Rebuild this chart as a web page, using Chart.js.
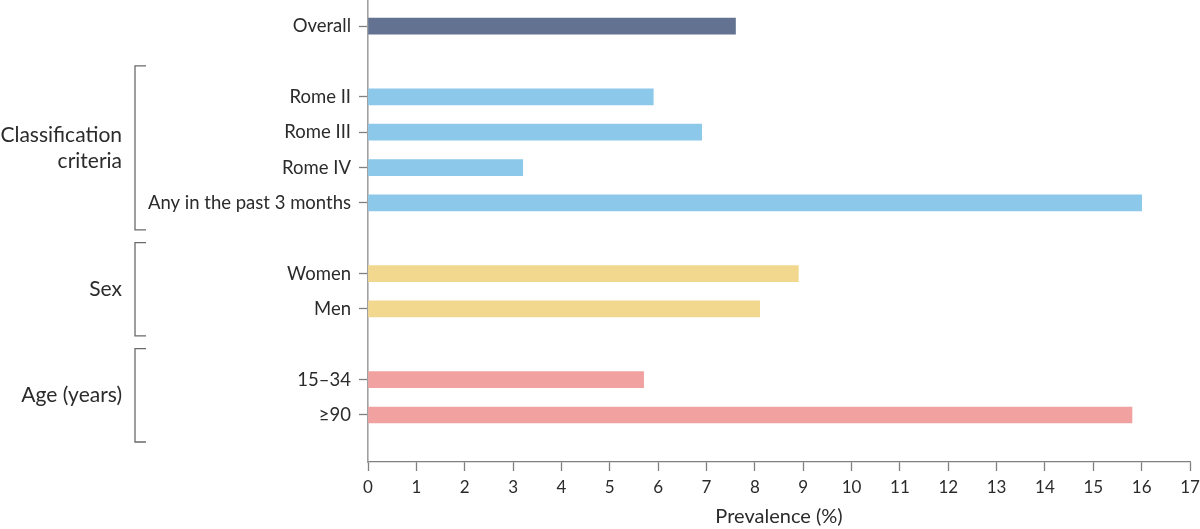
<!DOCTYPE html>
<html>
<head>
<meta charset="utf-8">
<script src="https://cdn.jsdelivr.net/npm/chart.js@4.4.0/dist/chart.umd.min.js"></script>
<style>
  body { margin: 0; background: #fff; }
  #wrap { width: 1200px; height: 529px; position: relative; }
</style>
</head>
<body>
<div id="wrap"><canvas id="myChart"></canvas></div>
<script>
// rows of the chart, '' = gap between groups
var categories = ['Overall', '', 'Rome II', 'Rome III', 'Rome IV', 'Any in the past 3 months', '', 'Women', 'Men', '', '15–34', '≥90'];
var prevalence = [7.6, null, 5.9, 6.9, 3.2, 16.0, null, 8.9, 8.1, null, 5.7, 15.8];
var rowGroup = ['overall', '', 'criteria', 'criteria', 'criteria', 'criteria', '', 'sex', 'sex', '', 'age', 'age'];

// bracketed groups on the left
var groupKeys = ['criteria', 'sex', 'age'];
var groupLabels = [['Classification', 'criteria'], ['Sex'], ['Age (years)']];

var xMin = 0;
var xMax = 17;
var xTitle = 'Prevalence (%)';

var groupColors = {
  overall: '#627290',
  criteria: '#8cc8ea',
  sex: '#f2d88e',
  age: '#f0a1a0'
};
var axisGray = '#a0a0a0';
var textColor = '#2b2b2b';
var fontFamily = 'Lato, "Open Sans", sans-serif';

// group brackets + labels
var groupPlugin = {
  id: 'groups',
  afterDraw: function(chart) {
    var ctx = chart.ctx;
    var y = chart.scales.y;
    ctx.save();
    groupKeys.forEach(function(key, g) {
      var first = rowGroup.indexOf(key);
      var last = rowGroup.lastIndexOf(key);
      var top = y.getPixelForValue(first) - 31;
      var bottom = y.getPixelForValue(last) + 27;
      ctx.strokeStyle = '#6a6a6a';
      ctx.lineWidth = 1.3;
      ctx.beginPath();
      ctx.moveTo(146, top);
      ctx.lineTo(135, top);
      ctx.lineTo(135, bottom);
      ctx.lineTo(146, bottom);
      ctx.stroke();

      var lines = groupLabels[g];
      var lh = 26;
      var mid = (top + bottom) / 2;
      ctx.fillStyle = textColor;
      ctx.font = '21px ' + fontFamily;
      ctx.textAlign = 'right';
      ctx.textBaseline = 'middle';
      lines.forEach(function(t, i) {
        ctx.fillText(t, 122, mid + (i - (lines.length - 1) / 2) * lh);
      });
    });
    ctx.restore();
  }
};

function chart() {
  var ctx = document.getElementById('myChart').getContext('2d');
  var myChart = new Chart(ctx, {
    type: 'bar',
    data: {
      labels: categories,
      datasets: [{
        data: prevalence,
        backgroundColor: rowGroup.map(function(g) { return groupColors[g] || 'transparent'; }),
        barThickness: 16,
        borderWidth: 0
      }]
    },
    options: {
      indexAxis: 'y',
      responsive: true,
      maintainAspectRatio: false,
      animation: false,
      layout: { padding: { top: 0, left: 0, right: 10, bottom: 0 } },
      plugins: {
        legend: { display: false },
        tooltip: { enabled: false }
      },
      scales: {
        x: {
          type: 'linear',
          min: xMin,
          max: xMax,
          ticks: {
            stepSize: 1,
            color: textColor,
            font: { family: fontFamily, size: 17 },
            padding: 6
          },
          grid: {
            drawOnChartArea: false,
            drawTicks: true,
            tickLength: 9,
            tickColor: '#808080',
            tickWidth: 1.3
          },
          border: { color: '#808080', width: 1.3 },
          title: {
            display: true,
            text: xTitle,
            color: textColor,
            font: { family: fontFamily, size: 20 },
            padding: { top: 4, bottom: 0 }
          },
          afterFit: function(scale) {
            scale.height = 67;
            scale.paddingLeft = 0;
            scale.paddingRight = 0;
          }
        },
        y: {
          type: 'category',
          offset: false,
          ticks: {
            autoSkip: false,
            color: textColor,
            font: { family: fontFamily, size: 18.5 },
            padding: 8
          },
          grid: {
            offset: false,
            drawOnChartArea: false,
            drawTicks: true,
            tickLength: 9,
            tickWidth: 1.3,
            tickColor: function(c) {
              return categories[c.index] ? '#808080' : 'transparent';
            }
          },
          border: { color: axisGray, width: 1.6 },
          afterFit: function(scale) {
            scale.width = 368;
            scale.paddingTop = 0;
            scale.paddingBottom = 0;
          },
          // leave extra room above first row and below last row
          afterBuildTicks: function(scale) {
            scale._startValue = -0.74;
            scale._valueRange = (categories.length - 1) + 0.74 + 1.33;
          }
        }
      }
    },
    plugins: [groupPlugin]
  });
  return myChart;
}

chart();
</script>
</body>
</html>
